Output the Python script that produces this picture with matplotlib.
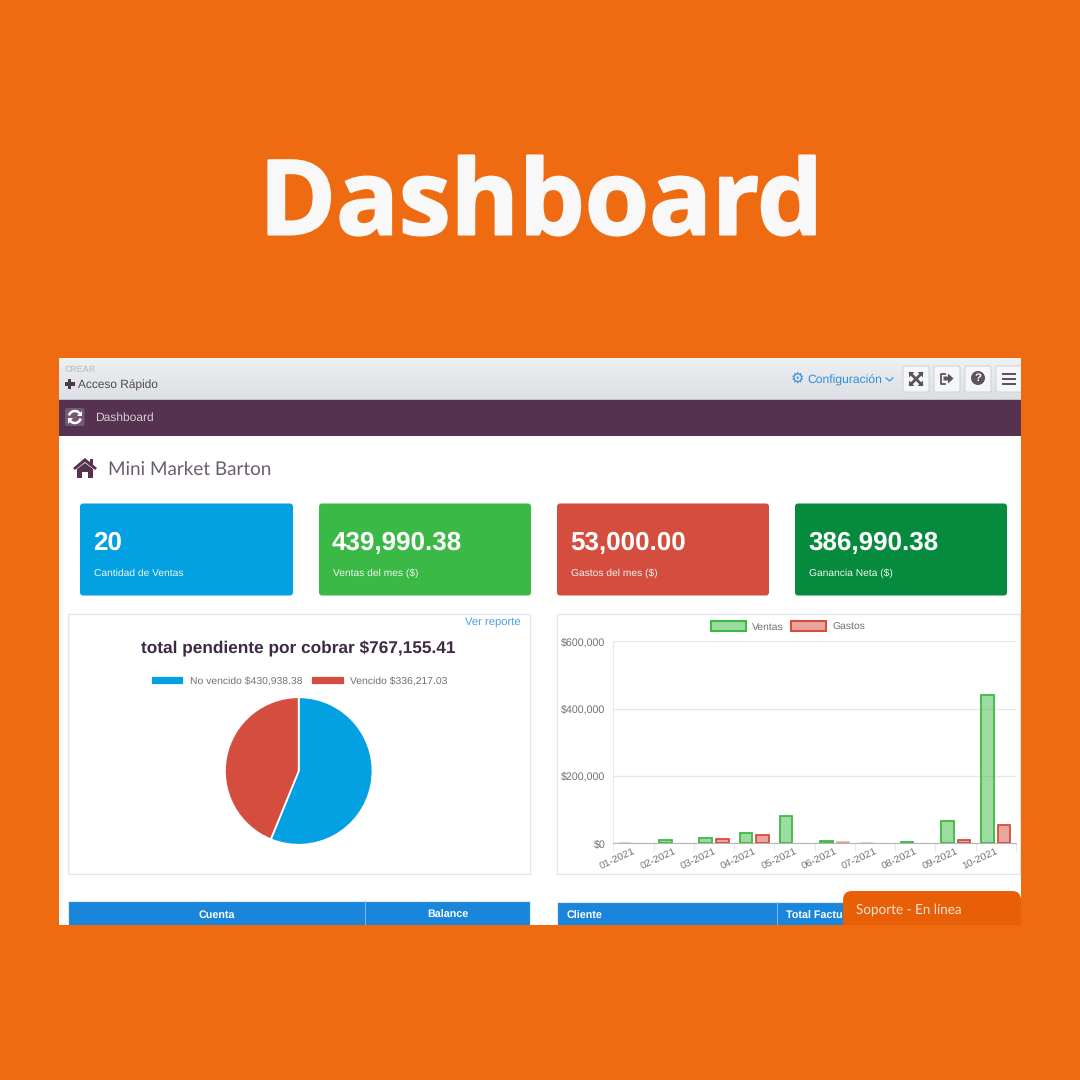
import numpy as np
import matplotlib
matplotlib.use("Agg")
import matplotlib.pyplot as plt
import matplotlib.patheffects as pe
from matplotlib.patches import Rectangle, FancyBboxPatch, Polygon, Circle, Patch
from matplotlib.transforms import ScaledTranslation

plt.rcParams["text.hinting"] = "no_hinting"

# ---- data ----
months = ["01-2021", "02-2021", "03-2021", "04-2021", "05-2021",
          "06-2021", "07-2021", "08-2021", "09-2021", "10-2021"]
ventas = [1500, 9000, 17000, 30000, 80000, 6000, 1500, 5000, 65000, 439990]
gastos = [0, 0, 14000, 25000, 0, 2500, 0, 0, 9000, 53000]
series_names = ["Ventas", "Gastos"]
y_ticks = [0, 200000, 400000, 600000]
pie_labels = ["No vencido $430,938.38", "Vencido $336,217.03"]
pie_values = [430938.38, 336217.03]
pie_title = "total pendiente por cobrar $767,155.41"
card_values = ["20", "439,990.38", "53,000.00", "386,990.38"]
card_labels = ["Cantidad de Ventas", "Ventas del mes ($)", "Gastos del mes ($)", "Ganancia Neta ($)"]
card_colors = ["#03a0e2", "#3bb946", "#d44d3f", "#068a3e"]

ORANGE = "#ee6b12"
PURPLE = "#553350"
SANS = "Liberation Sans"
CHART_TXT = "#707070"
GREEN_FILL = (61 / 255, 186 / 255, 69 / 255, 0.5)
RED_FILL = (212 / 255, 77 / 255, 63 / 255, 0.5)
px = 0.72  # font px -> pt at dpi 100

fig = plt.figure(figsize=(10.8, 10.8), dpi=100, facecolor=ORANGE)
W = H = 1080.0


def axes_px(x0, y0, x1, y1, **kw):
    return fig.add_axes([x0 / W, 1 - y1 / H, (x1 - x0) / W, (y1 - y0) / H], **kw)


bg = fig.add_axes([0, 0, 1, 1], zorder=0)
bg.set_xlim(0, W)
bg.set_ylim(H, 0)
bg.axis("off")


def rect(x0, y0, x1, y1, fc, ec="none", lw=0, z=1):
    bg.add_patch(Rectangle((x0, y0), x1 - x0, y1 - y0, fc=fc, ec=ec, lw=lw, zorder=z))


def rrect(x0, y0, x1, y1, fc, ec="none", lw=0, r=3, z=2):
    bg.add_patch(FancyBboxPatch((x0, y0), x1 - x0, y1 - y0, boxstyle=f"round,pad=0,rounding_size={r}",
                                fc=fc, ec=ec, lw=lw, zorder=z, mutation_aspect=1))


def txt(x, y, s, size, color, ha="left", va="center_baseline", weight="normal", family=SANS, z=4, **kw):
    return bg.text(x, y, s, fontsize=size * px, color=color, ha=ha, va=va,
                   fontweight=weight, family=family, zorder=z, **kw)


# big title
title = txt(541, 234.5, "Dashboard", 104, "#f8f8f8", ha="center", va="baseline", weight="bold", family="Open Sans")
title.set_path_effects([pe.withStroke(linewidth=1.5, foreground="#f8f8f8")])

# screenshot base
rect(59, 358, 1021, 925, "white")
grad = np.linspace(0, 1, 42).reshape(-1, 1)
bg.imshow(grad, extent=(59, 1021, 400, 358), aspect="auto", zorder=1.5,
          cmap=matplotlib.colors.LinearSegmentedColormap.from_list("h", ["#eef0f2", "#dcdfe3"]))
bg.set_xlim(0, W)
bg.set_ylim(H, 0)
rect(59, 399.2, 1021, 400.2, "#bfc2c6", z=2)
rect(59, 400, 1021, 436, PURPLE, z=2)

# header left
txt(65, 368.5, "CREAR", 8.8, "#c2c6ca", weight="bold")
rect(65, 382.4, 74.5, 385.6, "#4a3a4a", z=3)
rect(68.2, 379.2, 71.4, 388.8, "#4a3a4a", z=3)
txt(78, 384.3, "Acceso Rápido", 11.9, "#554a55")

# header right
txt(797.5, 380, "⚙", 15, "#2f8fdd", ha="center", va="center", family="DejaVu Sans")
txt(807.3, 379, "Configuración", 12.1, "#2f8fdd")
bg.plot([886, 889.5, 893], [377.8, 381, 377.8], color="#2f8fdd", lw=0.8, zorder=4)
for x0, x1 in [(903, 929), (934, 960), (965, 991), (996, 1024)]:
    rrect(x0, 366, x1, 392, "#f5f6f7", ec="#ced2d6", lw=0.7, r=2)
ICON = "#5f5260"
# fullscreen icon
bg.plot([910.5, 921.5], [373.5, 384.5], color=ICON, lw=2, zorder=4)
bg.plot([921.5, 910.5], [373.5, 384.5], color=ICON, lw=2, zorder=4)
for cx, cy, sx, sy in [(909, 372, 1, 1), (923, 372, -1, 1), (909, 386, 1, -1), (923, 386, -1, -1)]:
    bg.add_patch(Polygon([(cx, cy), (cx + 5.5 * sx, cy), (cx, cy + 5.5 * sy)], fc=ICON, zorder=4))
# logout icon
bg.plot([945, 941, 941, 945], [373.5, 373.5, 383.5, 383.5], color=ICON, lw=1.3, zorder=4)
bg.add_patch(Polygon([(943.5, 376.5), (948, 376.5), (948, 373.5), (953.5, 378.5), (948, 383.5), (948, 380.5), (943.5, 380.5)],
                     fc=ICON, zorder=4))
# help icon
bg.add_patch(Circle((978, 378), 7, fc=ICON, zorder=4))
txt(978, 378.3, "?", 11.5, "white", ha="center", va="center", weight="bold", z=5)
# menu icon
for yy in (373.5, 378.5, 383.5):
    rect(1002, yy - 1, 1016, yy + 1, ICON, z=4)

# purple bar
rrect(65, 408, 84.5, 426, "#73596f", r=2)
theta = np.linspace(0.15, 0.85, 20) * np.pi
bg.plot(74.8 + 6 * np.cos(theta), 417 - 6 * np.sin(theta), color="white", lw=1.8, zorder=4)
bg.plot(74.8 - 6 * np.cos(theta), 417 + 6 * np.sin(theta), color="white", lw=1.8, zorder=4)
bg.add_patch(Polygon([(82, 410.5), (82, 416), (76.8, 416)], fc="white", zorder=4))
bg.add_patch(Polygon([(67.6, 423.5), (67.6, 418), (72.8, 418)], fc="white", zorder=4))
txt(95.5, 417, "Dashboard", 12, "#d6cdd5")

# page heading
bg.add_patch(Polygon([(73, 468), (85, 458), (97, 468), (95, 470), (85, 462), (75, 470)], fc=PURPLE, zorder=4))
bg.add_patch(Polygon([(77, 469), (85, 463), (93, 469), (93, 478), (88, 478), (88, 472), (82, 472), (82, 478), (77, 478)],
                     fc=PURPLE, zorder=4))
rect(90, 459, 93, 465, PURPLE, z=4)
txt(108, 468, "Mini Market Barton", 18.9, "#6a5c70", family="Lato")

# cards
card_x = [(80, 293), (319, 531), (557, 769), (795, 1007)]
for (x0, x1), col, val, lab in zip(card_x, card_colors, card_values, card_labels):
    rrect(x0, 503.5, x1, 595.5, col)
    txt(x0 + 13, 540.5, val, 26, "white", weight="bold")
    txt(x0 + 14, 572.7, lab, 10.3, "#eef6f2")

# panels
rect(68, 613.5, 530, 873.5, "white", ec="#e4e7eb", lw=1, z=1.8)
rect(557, 613.5, 1020, 873.5, "white", ec="#e4e7eb", lw=1, z=1.8)
txt(521, 621, "Ver reporte", 11.3, "#4a9de0", ha="right")
txt(298.5, 647.5, pie_title, 17.2, "#3f2a45", ha="center", weight="bold")

# tables
rect(68, 901, 530, 926, "#1a86db", ec="#e6e9ec", lw=0.8, z=2)
rect(364.5, 901, 365.5, 926, "#7fb8e8", z=3)
txt(216.5, 914, "Cuenta", 10.8, "white", ha="center", weight="bold")
txt(447.5, 914, "Balance", 10.8, "white", ha="center", weight="bold")
rect(557, 902, 1021, 926, "#1a86db", ec="#e6e9ec", lw=0.8, z=2)
rect(776.5, 902, 777.5, 926, "#7fb8e8", z=3)
txt(567, 915, "Cliente", 10.8, "white", weight="bold")
txt(786.5, 915, "Total Factura", 10.8, "white", weight="bold")

# support tab
rrect(843, 891, 1021, 950, "#e85f08", r=9, z=4.5)
txt(856, 908.5, "Soporte - En línea", 13.5, "#f8e3d4", family="Lato", z=5)

# mask around the screenshot
rect(0, 925, W, H, ORANGE, z=8)
rect(1021, 350, W, H, ORANGE, z=8)

# ---- pie ----
R = 73.8
cx, cy = 298.7, 771.0
pie_ax = axes_px(cx - R * 1.03, cy - R * 1.03, cx + R * 1.03, cy + R * 1.03, zorder=2)
wedges, _ = pie_ax.pie(pie_values, colors=[card_colors[0], card_colors[2]], startangle=90, counterclock=False,
                       radius=1 / 1.03, wedgeprops=dict(edgecolor="white", linewidth=1.3))
pie_ax.set_xlim(-1, 1)
pie_ax.set_ylim(-1, 1)
fig.legend(wedges, pie_labels, loc="center", bbox_to_anchor=(299.5 / W, 1 - 681 / H), ncol=2, frameon=False,
           prop=dict(family=SANS, size=10.4 * px), labelcolor=CHART_TXT, handlelength=3.2, handleheight=0.9,
           handletextpad=0.55, columnspacing=0.85, borderpad=0, borderaxespad=0)

# ---- bars ----
ax = axes_px(613.3, 641.3, 1016, 843.3, zorder=2)
ax.patch.set_alpha(0)
idx = np.arange(len(months))
off = 0.206
bw = 0.31
b1 = ax.bar(idx - off, ventas, bw, color=GREEN_FILL, edgecolor="#3dba45", linewidth=1.3, zorder=3)
b2 = ax.bar(idx + off, gastos, bw, color=RED_FILL, edgecolor="#d44d41", linewidth=1.3, zorder=3)
for container, vals in ((b1, ventas), (b2, gastos)):
    for patch, v in zip(container, vals):
        if v == 0:
            patch.set_visible(False)
        elif v < 3000:
            patch.set_alpha(0.35)
ax.set_xlim(-0.5, len(months) - 0.5)
ax.set_ylim(0, 600000)
ax.set_yticks(y_ticks)
ax.set_yticklabels([f"${v:,}" for v in y_ticks], family=SANS, fontsize=10.6 * px, color=CHART_TXT)
for lab in ax.get_yticklabels():
    lab.set_transform(lab.get_transform() + ScaledTranslation(0, 1.5 / 100, fig.dpi_scale_trans))
ax.set_xticks(np.arange(-0.5, len(months)))
ax.set_xticklabels([])
ax.set_xticks(idx, labels=months, minor=True, rotation=25, ha="right", va="top", rotation_mode="anchor",
              family=SANS, fontsize=10.4 * px, color=CHART_TXT)
ax.tick_params(axis="x", which="major", length=6, width=0.8, color="#e6e8ea")
ax.tick_params(axis="x", which="minor", length=0, pad=3)
ax.tick_params(axis="y", length=0, pad=5.8)
ax.grid(axis="y", color="#e6e8ea", lw=1, zorder=0)
ax.set_axisbelow(True)
for s in ("top", "right"):
    ax.spines[s].set_visible(False)
ax.spines["left"].set_color("#e6e8ea")
ax.spines["bottom"].set_color("#b5b5b5")
legend_handles = [Patch(facecolor=GREEN_FILL, edgecolor="#3dba45", linewidth=1.5),
                  Patch(facecolor=RED_FILL, edgecolor="#d44d41", linewidth=1.5)]
fig.legend(legend_handles, series_names, loc="center", bbox_to_anchor=(788 / W, 1 - 626.5 / H), ncol=2, frameon=False,
           prop=dict(family=SANS, size=10.4 * px), labelcolor=CHART_TXT, handlelength=3.4, handleheight=1.0,
           handletextpad=0.55, columnspacing=0.7, borderpad=0, borderaxespad=0)

fig.savefig("out.png", dpi=100, facecolor=ORANGE)
